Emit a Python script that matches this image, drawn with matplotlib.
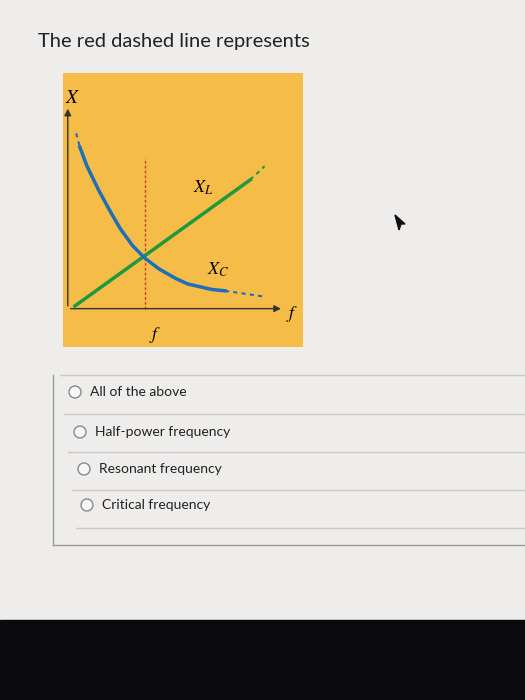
import matplotlib.pyplot as plt
from matplotlib.patches import Rectangle, Circle

plt.rcParams['mathtext.fontset'] = 'stix'

# --- data ---
title = "The red dashed line represents"
options = ["All of the above", "Half-power frequency", "Resonant frequency", "Critical frequency"]

xl_solid_f = [0.5, 7.8]
xl_solid_x = [1.5, 6.1]
xl_dash_f = [7.8, 8.4]
xl_dash_x = [6.1, 6.6]

xc_solid_f = [0.7, 1.0, 1.5, 2.0, 2.4, 2.9, 3.4, 4.0, 4.7, 5.2, 5.7, 6.2, 6.75]
xc_solid_x = [7.3, 6.6, 5.7, 4.9, 4.3, 3.7, 3.25, 2.85, 2.5, 2.3, 2.2, 2.1, 2.05]
xc_dash_f = [6.75, 8.3]
xc_dash_x = [2.05, 1.85]
xc_top_f = [0.55, 0.7]
xc_top_x = [7.8, 7.3]

f_res = 3.4

W, H = 525, 700
fig = plt.figure(figsize=(5.25, 7), dpi=100)
fig.patch.set_facecolor('#ecebea')

# page layer in pixel coordinates
page = fig.add_axes([0, 0, 1, 1])
page.set_xlim(0, W)
page.set_ylim(H, 0)
page.axis('off')
page.add_patch(Rectangle((0, 0), W, 620, color='#eeedeb', zorder=0))
page.add_patch(Rectangle((0, 620), W, 80, color='#0b0b0d', zorder=0))
page.text(38, 42, title, fontsize=14.5, color='#222222', va='center', family='Lato')

# question box lines
page.plot([53, 525], [545, 545], color='#9a9a9a', lw=1)
page.plot([53, 53], [375, 545], color='#9a9a9a', lw=1)
sep_y = [375, 414, 452, 490, 528]
for i, y in enumerate(sep_y):
    page.plot([60 + 4 * i, 525], [y, y], color='#c9c9c9', lw=1)

opt_y = [392, 432, 469, 505]
opt_x = [75, 80, 84, 87]
for x, y, label in zip(opt_x, opt_y, options):
    page.add_patch(Circle((x, y), 6, facecolor='#f6f6f6', edgecolor='#8a8a8a', lw=1))
    page.text(x + 15, y, label, fontsize=10, color='#222222', va='center', family='Lato')

# cursor arrow
page.fill([395, 405, 401, 399], [215, 224, 224, 230], color='#111111')

# chart
ax = fig.add_axes([63 / W, 1 - 347 / H, 240 / W, 274 / H])
ax.set_facecolor('#f5bc47')
ax.set_xlim(0, 10)
ax.set_ylim(0, 10)
ax.set_xticks([])
ax.set_yticks([])
for s in ax.spines.values():
    s.set_visible(False)

ax.annotate('', xy=(9.2, 1.4), xytext=(0.2, 1.4),
            arrowprops=dict(arrowstyle='-|>', color='#333333', lw=1))
ax.annotate('', xy=(0.2, 8.8), xytext=(0.2, 1.4),
            arrowprops=dict(arrowstyle='-|>', color='#333333', lw=1))

ax.plot([f_res, f_res], [1.4, 6.9], color='#d23a2a', lw=1, ls=(0, (2, 1.5)))
ax.plot(xl_solid_f, xl_solid_x, color='#1e9a3c', lw=2.5)
ax.plot(xl_dash_f, xl_dash_x, color='#1e9a3c', lw=1.5, ls=(0, (2, 2)))
ax.plot(xc_solid_f, xc_solid_x, color='#1c6fb8', lw=2.5)
ax.plot(xc_dash_f, xc_dash_x, color='#1c6fb8', lw=1.5, ls=(0, (2, 2)))
ax.plot(xc_top_f, xc_top_x, color='#1c6fb8', lw=1.5, ls=(0, (2, 2)))

ax.text(0.1, 9.1, '$X$', fontsize=14, va='center')
ax.text(5.4, 5.8, '$X_L$', fontsize=13, va='center')
ax.text(6.0, 2.8, '$X_C$', fontsize=13, va='center')
ax.text(9.3, 1.2, '$f$', fontsize=13, va='center')
ax.text(3.6, 0.45, '$f$', fontsize=13, va='center')

fig.savefig('out.png', dpi=100, facecolor=fig.get_facecolor())
